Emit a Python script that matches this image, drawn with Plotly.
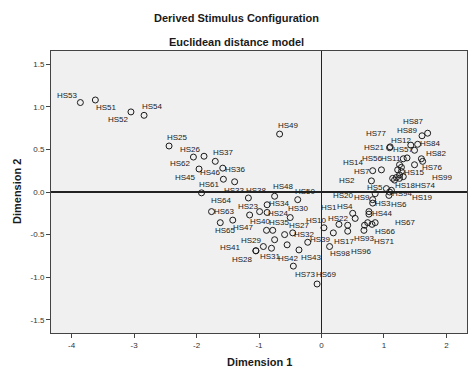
import plotly.graph_objects as go

# ---- data ----
stimulus = ["HS53","HS51","HS52","HS54","HS25","HS62","HS26","HS37","HS45","HS36",
            "HS46","HS61","HS33","HS49","HS38","HS48","HS50","HS63","HS64","HS23",
            "HS34","HS24","HS30","HS65","HS47","HS40","HS35","HS27","HS32","HS10",
            "HS39","","HS29","HS31","HS41","HS28","HS42","HS43","HS73","HS69",
            "HS2","HS7","HS14","HS56","HS11","HS21","HS77","HS12","HS84","HS89",
            "HS87","HS57","HS82","HS99","HS76","HS15","HS18","HS74","HS5","HS94",
            "HS19","HS6","HS20","HS9","HS3","HS44","","HS4","HS1","HS22",
            "","HS96","HS17","HS98","HS93","HS66","HS67","HS71","",
            "","","","","","",""]
dim1 = [-3.86,-3.62,-3.05,-2.84,-2.44,-2.05,-1.88,-1.70,-1.96,-1.58,
        -1.57,-1.92,-1.39,-0.67,-1.17,-0.75,-0.38,-1.76,-0.99,-1.15,
        -0.87,-0.87,-0.50,-1.62,-1.42,-0.88,-0.78,-0.59,-0.46,0.04,
        -0.22,-0.75,-0.93,-0.80,-1.05,-1.05,-0.55,-0.36,-0.45,-0.07,
        0.80,0.82,0.96,1.25,1.31,1.09,1.10,1.43,1.54,1.61,
        1.70,1.49,1.60,1.62,1.49,1.28,1.14,1.25,1.04,1.09,
        1.12,1.08,0.86,0.82,0.82,0.76,0.76,0.50,0.54,0.28,
        0.42,0.42,0.19,0.13,0.68,0.81,0.86,0.74,0.69,
        1.28,1.22,1.25,1.20,1.17,1.31,1.37]
dim2 = [1.05,1.08,0.94,0.90,0.54,0.41,0.42,0.36,0.27,0.28,
        0.15,-0.01,0.12,0.68,-0.07,-0.05,-0.09,-0.23,-0.23,-0.27,
        -0.15,-0.24,-0.30,-0.36,-0.33,-0.45,-0.45,-0.50,-0.48,-0.42,
        -0.59,-0.56,-0.64,-0.66,-0.69,-0.69,-0.62,-0.68,-0.87,-1.08,
        0.13,0.25,0.26,0.32,0.39,0.52,0.53,0.55,0.56,0.66,
        0.69,0.49,0.39,0.36,0.32,0.24,0.16,0.16,0.04,0.00,
        0.02,-0.04,-0.02,-0.09,-0.13,-0.23,-0.26,-0.25,-0.31,-0.38,
        -0.39,-0.46,-0.48,-0.64,-0.45,-0.38,-0.36,-0.36,-0.39,
        0.29,0.26,0.20,0.17,0.14,0.18,0.40]

x_ticks = [-4, -3, -2, -1, 0, 1, 2]
x_tick_text = ["-4", "-3", "-2", "-1", "0", "1", "2"]
y_ticks = [-1.5, -1.0, -0.5, 0.0, 0.5, 1.0, 1.5]
y_tick_text = ["-1.5", "-1.0", "-0.5", "0.0", "0.5", "1.0", "1.5"]

title_lines = ["Derived Stimulus Configuration", "Euclidean distance model"]
x_title = "Dimension 1"
y_title = "Dimension 2"

# ---- label placement style (pixel offsets of each label from its point) ----
label_dx = [-13.3,10.8,-12.4,8.2,8.5,-12.5,-13.3,8.2,-13.2,12.3,
            -13,8.1,0,8.7,8,8.8,8.2,12.5,-37.8,-1.2,
            12.4,11.5,8.6,5.3,10.5,-6.5,7,14.5,11.6,-7.3,
            12.5,0,-12,-1.4,-25.7,-13.2,1.7,12.5,11.7,9,
            -24.5,-10.8,-28.3,-27,-12,-15,-13.3,-9,13,-14.4,
            -13.8,-11.5,14.6,19.5,18,12.8,12.5,25.8,-11.2,13,
            31,10.3,-31.2,-10.8,10.5,13.5,0,-7.8,-26.4,-0.8,
            0,13.5,11.2,11.2,0.7,13.9,30,16.5,0,
            0,0,0,0,0,0,0]
label_dy = [-7.3,7.3,7.3,-8.6,-8.3,6.6,-7,-9,8,1,
            -6.3,-8.7,9,-9,-7.6,-9.3,-7.8,0,-10.7,-8.6,
            -1.7,1.3,-8.7,8.3,7.7,-8.5,-7.4,-9,2,-7.7,
            -2.3,0,-6,8.4,-3.7,8.3,13.3,7.3,8,-10,
            0,0.5,-7.8,-6,-0.7,0,-13.7,-5,-1,-5,
            -11.6,-0.5,-5.7,16.2,3,1.3,6.7,6.7,-1.3,1.7,
            6.7,9,2,-2,0,1.6,0,-7.3,-11,-6.3,
            0,20.7,8.4,7.3,7.7,7.4,0,19,0,
            0,0,0,0,0,0,0]

FONT = "Liberation Sans, Arial, sans-serif"

fig = go.Figure()
fig.add_trace(go.Scatter(
    x=dim1, y=dim2, mode="markers",
    marker=dict(symbol="circle-open", size=6, color="#1a1a1a", line=dict(width=1, color="#1a1a1a")),
    hoverinfo="skip", showlegend=False,
))

annotations = []
for xv, yv, lab, dx, dy in zip(dim1, dim2, stimulus, label_dx, label_dy):
    if not lab:
        continue
    annotations.append(dict(
        x=xv, y=yv, xref="x", yref="y", text=lab, showarrow=False,
        xanchor="center", yanchor="middle", xshift=dx, yshift=-dy,
        font=dict(family=FONT, size=8, color="#1a1a1a"), borderpad=0,
    ))

# titles
annotations.append(dict(x=0.446, y=1, xref="paper", yref="paper", text="<b>%s</b>" % title_lines[0],
                        showarrow=False, xanchor="center", yanchor="middle", yshift=33,
                        font=dict(family=FONT, size=11, color="#1a1a1a")))
annotations.append(dict(x=0.446, y=1, xref="paper", yref="paper", text="<b>%s</b>" % title_lines[1],
                        showarrow=False, xanchor="center", yanchor="middle", yshift=9.5,
                        font=dict(family=FONT, size=11, color="#1a1a1a")))
annotations.append(dict(x=0.5, y=0, xref="paper", yref="paper", text="<b>%s</b>" % x_title,
                        showarrow=False, xanchor="center", yanchor="middle", yshift=-29,
                        font=dict(family=FONT, size=11, color="#1a1a1a")))
annotations.append(dict(x=0, y=0.5, xref="paper", yref="paper", text="<b>%s</b>" % y_title,
                        showarrow=False, xanchor="center", yanchor="middle", xshift=-34,
                        textangle=-90, font=dict(family=FONT, size=11, color="#1a1a1a")))

axis_common = dict(
    showgrid=False, showline=True, mirror=True, linecolor="#444", linewidth=1,
    ticks="outside", ticklen=4, tickcolor="#444", tickwidth=1,
    zeroline=True, zerolinecolor="#222", zerolinewidth=1.5,
    tickfont=dict(family=FONT, size=8, color="#333"),
    automargin=False,
)

fig.update_layout(
    width=474, height=379, autosize=False,
    margin=dict(l=51, r=7, t=51, b=46),
    paper_bgcolor="white", plot_bgcolor="#f0f0f0",
    xaxis=dict(range=[-4.33, 2.33], tickvals=x_ticks, ticktext=x_tick_text, **axis_common),
    yaxis=dict(range=[-1.655, 1.655], tickvals=y_ticks, ticktext=y_tick_text, **axis_common),
    annotations=annotations,
)

fig.write_html(
    "out.html",
    config={"displayModeBar": False, "staticPlot": True},
    post_script="document.body.style.margin='0';document.body.style.padding='0';document.body.style.overflow='hidden';",
)
